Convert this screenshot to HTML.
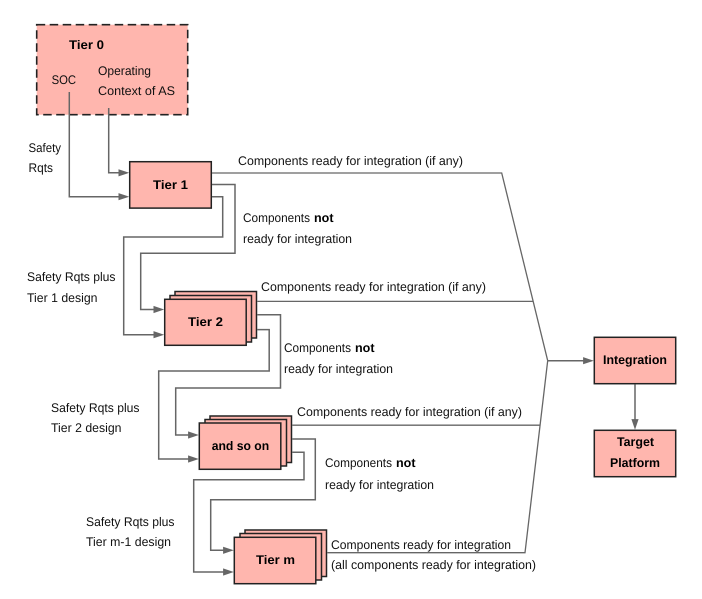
<!DOCTYPE html>
<html>
<head>
<meta charset="utf-8">
<style>
html,body{margin:0;padding:0;background:#fff;}
svg{display:block;}
text{font-family:"Liberation Sans",sans-serif;font-size:12.5px;fill:#111;text-rendering:geometricPrecision;}
.b{font-weight:bold;fill:#000;}
.box{fill:#ffb6ae;stroke:#222;stroke-width:1.5;}
.ln{fill:none;stroke:#666;stroke-width:1.5;}
.sl{fill:none;stroke:#666;stroke-width:1.3;}
.ar{fill:#666;}
</style>
</head>
<body>
<svg width="702" height="599" viewBox="0 0 702 599" xmlns="http://www.w3.org/2000/svg">
<rect width="702" height="599" fill="#fff"/>

<!-- Tier 0 -->
<rect x="36.7" y="24.7" width="151" height="90" fill="#ffb6ae" stroke="#222" stroke-width="1.6" stroke-dasharray="8.5 4.5"/>

<!-- Stacked boxes -->
<rect class="box" x="175" y="291.5" width="81.5" height="46.5"/>
<rect class="box" x="170" y="295.5" width="81.5" height="46.5"/>
<rect class="box" x="164.7" y="299.3" width="81.5" height="46"/>

<rect class="box" x="210" y="416" width="81.5" height="46.5"/>
<rect class="box" x="205" y="419.5" width="81.5" height="46.5"/>
<rect class="box" x="199.3" y="423" width="81.5" height="46.3"/>

<rect class="box" x="245" y="530" width="81.5" height="46.5"/>
<rect class="box" x="240" y="533.5" width="81.5" height="46.5"/>
<rect class="box" x="234.3" y="537.3" width="81.5" height="46.4"/>

<!-- Single boxes -->
<rect class="box" x="129.7" y="161.7" width="81.6" height="46.4"/>
<rect class="box" x="594.3" y="337.3" width="81.4" height="46.4"/>
<rect class="box" x="594.3" y="430.3" width="81.4" height="46.4"/>

<!-- Connectors -->
<polyline class="ln" points="108.7,108 108.7,172.8 122,172.8"/>
<polyline class="ln" points="69.3,92 69.3,196.7 122,196.7"/>

<polyline class="sl" points="212,173 501.7,173 547.7,360.7"/>
<line class="ln" x1="547.7" y1="360.7" x2="586" y2="360.7"/>
<line class="sl" x1="257.2" y1="301.4" x2="533" y2="301.4"/>
<line class="sl" x1="292.2" y1="425.2" x2="540.2" y2="425.2"/>
<polyline class="sl" points="327.2,552.7 525,552.7 547.7,360.7"/>

<polyline class="ln" points="212,184.5 235,184.5 235,253.3 140.7,253.3 140.7,309.5 157,309.5"/>
<polyline class="ln" points="212,196.7 222.7,196.7 222.7,237 123.7,237 123.7,334.7 157,334.7"/>

<polyline class="ln" points="257.2,314.8 280.5,314.8 280.5,388 175.7,388 175.7,435 192,435"/>
<polyline class="ln" points="257.2,329.6 269.2,329.6 269.2,371 158.7,371 158.7,459 192,459"/>

<polyline class="ln" points="292.2,439 315.3,439 315.3,499.7 210.7,499.7 210.7,550.3 227,550.3"/>
<polyline class="ln" points="292.2,452.3 304,452.3 304,479.7 193.7,479.7 193.7,572 227,572"/>

<line class="ln" x1="635" y1="384.4" x2="635" y2="422"/>

<!-- Arrowheads -->
<polygon class="ar" points="129.2,172.8 118.5,169.2 118.5,176.4"/>
<polygon class="ar" points="129.2,196.7 118.5,193.1 118.5,200.3"/>
<polygon class="ar" points="164.2,309.5 153.5,305.9 153.5,313.1"/>
<polygon class="ar" points="164.2,334.7 153.5,331.1 153.5,338.3"/>
<polygon class="ar" points="198.8,435 188.1,431.4 188.1,438.6"/>
<polygon class="ar" points="198.8,459 188.1,455.4 188.1,462.6"/>
<polygon class="ar" points="233.8,550.3 223.1,546.7 223.1,553.9"/>
<polygon class="ar" points="233.8,572 223.1,568.4 223.1,575.6"/>
<polygon class="ar" points="593.8,360.7 583.1,357.1 583.1,364.3"/>
<polygon class="ar" points="635,429.8 631.4,419.1 638.6,419.1"/>

<!-- Labels -->
<text class="b" x="69" y="49" textLength="35" lengthAdjust="spacingAndGlyphs">Tier 0</text>
<text x="51.6" y="84" textLength="24.5" lengthAdjust="spacingAndGlyphs">SOC</text>
<text x="98" y="75" textLength="53" lengthAdjust="spacingAndGlyphs">Operating</text>
<text x="98" y="95" textLength="77" lengthAdjust="spacingAndGlyphs">Context of AS</text>
<text x="28.5" y="152" textLength="32.5" lengthAdjust="spacingAndGlyphs">Safety</text>
<text x="28.5" y="172" textLength="24.5" lengthAdjust="spacingAndGlyphs">Rqts</text>

<text class="b" x="153" y="189" textLength="35" lengthAdjust="spacingAndGlyphs">Tier 1</text>
<text x="238" y="165" textLength="225" lengthAdjust="spacingAndGlyphs">Components ready for integration (if any)</text>
<text x="243" y="222" textLength="67" lengthAdjust="spacingAndGlyphs">Components</text>
<text class="b" x="314" y="222" textLength="19.5" lengthAdjust="spacingAndGlyphs">not</text>
<text x="243" y="243" textLength="109" lengthAdjust="spacingAndGlyphs">ready for integration</text>
<text x="27" y="281" textLength="88.5" lengthAdjust="spacingAndGlyphs">Safety Rqts plus</text>
<text x="27" y="302" textLength="70.5" lengthAdjust="spacingAndGlyphs">Tier 1 design</text>

<text class="b" x="188" y="326" textLength="35" lengthAdjust="spacingAndGlyphs">Tier 2</text>
<text x="261" y="291" textLength="225" lengthAdjust="spacingAndGlyphs">Components ready for integration (if any)</text>
<text x="284" y="352" textLength="67" lengthAdjust="spacingAndGlyphs">Components</text>
<text class="b" x="355" y="352" textLength="19.5" lengthAdjust="spacingAndGlyphs">not</text>
<text x="284" y="373" textLength="109" lengthAdjust="spacingAndGlyphs">ready for integration</text>
<text x="51" y="412" textLength="88.5" lengthAdjust="spacingAndGlyphs">Safety Rqts plus</text>
<text x="51" y="432" textLength="70.5" lengthAdjust="spacingAndGlyphs">Tier 2 design</text>

<text class="b" x="211.7" y="450" textLength="57.5" lengthAdjust="spacingAndGlyphs">and so on</text>
<text x="297" y="416" textLength="225" lengthAdjust="spacingAndGlyphs">Components ready for integration (if any)</text>
<text x="325" y="467" textLength="67" lengthAdjust="spacingAndGlyphs">Components</text>
<text class="b" x="396" y="467" textLength="19.5" lengthAdjust="spacingAndGlyphs">not</text>
<text x="325" y="489" textLength="109" lengthAdjust="spacingAndGlyphs">ready for integration</text>
<text x="86" y="526" textLength="88.5" lengthAdjust="spacingAndGlyphs">Safety Rqts plus</text>
<text x="86" y="546" textLength="85" lengthAdjust="spacingAndGlyphs">Tier m-1 design</text>

<text class="b" x="256" y="564" textLength="39" lengthAdjust="spacingAndGlyphs">Tier m</text>
<text x="331" y="549" textLength="180" lengthAdjust="spacingAndGlyphs">Components ready for integration</text>
<text x="331" y="569" textLength="205" lengthAdjust="spacingAndGlyphs">(all components ready for integration)</text>

<text class="b" x="603" y="364" textLength="64" lengthAdjust="spacingAndGlyphs">Integration</text>
<text class="b" x="617" y="446" textLength="37" lengthAdjust="spacingAndGlyphs">Target</text>
<text class="b" x="610" y="467" textLength="50" lengthAdjust="spacingAndGlyphs">Platform</text>
</svg>
</body>
</html>
